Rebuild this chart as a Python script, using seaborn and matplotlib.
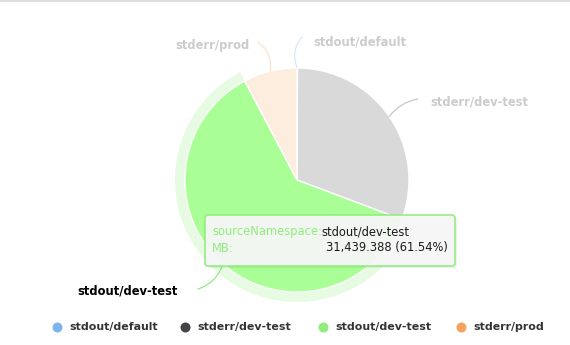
import numpy as np
import matplotlib
matplotlib.use("Agg")
import matplotlib.pyplot as plt
from matplotlib.patches import Wedge, FancyBboxPatch
from matplotlib.lines import Line2D
import seaborn as sns

sns.set_theme(style="white")
plt.rcParams['font.family'] = ['DejaVu Sans']

# ---- data ----
categories = ["stdout/default", "stderr/dev-test", "stdout/dev-test", "stderr/prod"]
values_mb = [40.0, 15660.0, 31439.388, 3945.0]
base_colors = ["#7cb5ec", "#434348", "#90ed7d", "#f7a35c"]
hover_index = 2
tooltip_key = "sourceNamespace"
tooltip_unit = "MB"

W, H = 570, 345
fig = plt.figure(figsize=(W / 100, H / 100), dpi=100)
ax = fig.add_axes([0, 0, 1, 1])
ax.set_xlim(0, W)
ax.set_ylim(H, 0)
ax.set_aspect("equal")
ax.axis("off")

cx, cy, R = 297, 180, 112

def mix(c, a):
    r, g, b = matplotlib.colors.to_rgb(c)
    return (1 - a + a * r, 1 - a + a * g, 1 - a + a * b)

faded = [mix(c, 0.2) for c in base_colors]
faded[hover_index] = "#a9ff96"

total = sum(values_mb)
# clockwise from top; y axis is inverted so matplotlib angles flip
angles = []
start = -90.0
for v in values_mb:
    span = 360.0 * v / total
    angles.append((start, start + span))
    start += span

for i, (a1, a2) in enumerate(angles):
    w = Wedge((cx, cy), R, a1, a2, facecolor=faded[i], edgecolor="white", linewidth=1, zorder=2)
    ax.add_patch(w)
    if i == hover_index:
        halo = Wedge((cx, cy), R + 10, a1, a2, width=10, facecolor=base_colors[i], alpha=0.22,
                     edgecolor="none", zorder=1)
        ax.add_patch(halo)

# data labels
label_pos = [(313, 42, "left"), (430, 102, "left"), (178, 291, "right"), (250, 45, "right")]
conn_start = [(302, 37), (418, 99), (198, 289), (258, 42)]
conn_rad = [0.3, 0.2, 0.25, -0.3]
for i, cat in enumerate(categories):
    a1, a2 = angles[i]
    mid = np.deg2rad((a1 + a2) / 2)
    ex, ey = cx + R * np.cos(mid), cy + R * np.sin(mid)
    lx, ly, ha = label_pos[i]
    active = i == hover_index
    col = "black" if active else "#cccccc"
    ax.text(lx, ly, cat, ha=ha, va="center", fontsize=8.3, fontweight="bold", color=col, zorder=5)
    lc = base_colors[i] if active else mix(base_colors[i], 0.3)
    ax.annotate("", xy=(ex, ey), xytext=conn_start[i],
                arrowprops=dict(arrowstyle="-", color=lc, lw=0.9,
                                connectionstyle=f"arc3,rad={conn_rad[i]}",
                                shrinkA=0, shrinkB=0), zorder=4)

# tooltip
box = FancyBboxPatch((205, 215), 250, 51, boxstyle="round,pad=0,rounding_size=3",
                     facecolor="#f7f7f7", edgecolor=base_colors[hover_index], linewidth=1.2,
                     alpha=0.95, zorder=6)
shadow = FancyBboxPatch((207, 217), 250, 51, boxstyle="round,pad=0,rounding_size=3",
                        facecolor="#000000", edgecolor="none", alpha=0.06, zorder=5.5)
ax.add_patch(shadow)
ax.add_patch(box)
val = values_mb[hover_index]
pct = 100 * val / total
fs_tt = 8.3
ax.text(212, 232, f"{tooltip_key}:", fontsize=fs_tt, color=base_colors[hover_index], va="center", zorder=7)
ax.text(321, 232, categories[hover_index], fontsize=fs_tt, color="#1a1a1a", va="center", zorder=7)
ax.text(212, 248, f"{tooltip_unit}:", fontsize=fs_tt, color=base_colors[hover_index], va="center", zorder=7)
ax.text(448, 248, f"{val:,.3f} ({pct:.2f}%)", fontsize=fs_tt, color="#1a1a1a", ha="right",
        va="center", zorder=7)

# legend
legend_x = [57, 185, 323, 461]
for i, cat in enumerate(categories):
    ax.scatter([legend_x[i]], [327], s=52, color=base_colors[i], zorder=5, linewidths=0)
    ax.text(legend_x[i] + 12, 327, cat, fontsize=7.9, fontweight="bold", color="#333333",
            va="center", ha="left")

# top border
ax.add_line(Line2D([0, W], [1.2, 1.2], color="#d8d8d8", lw=1.2))

fig.savefig("out.png", dpi=100)
